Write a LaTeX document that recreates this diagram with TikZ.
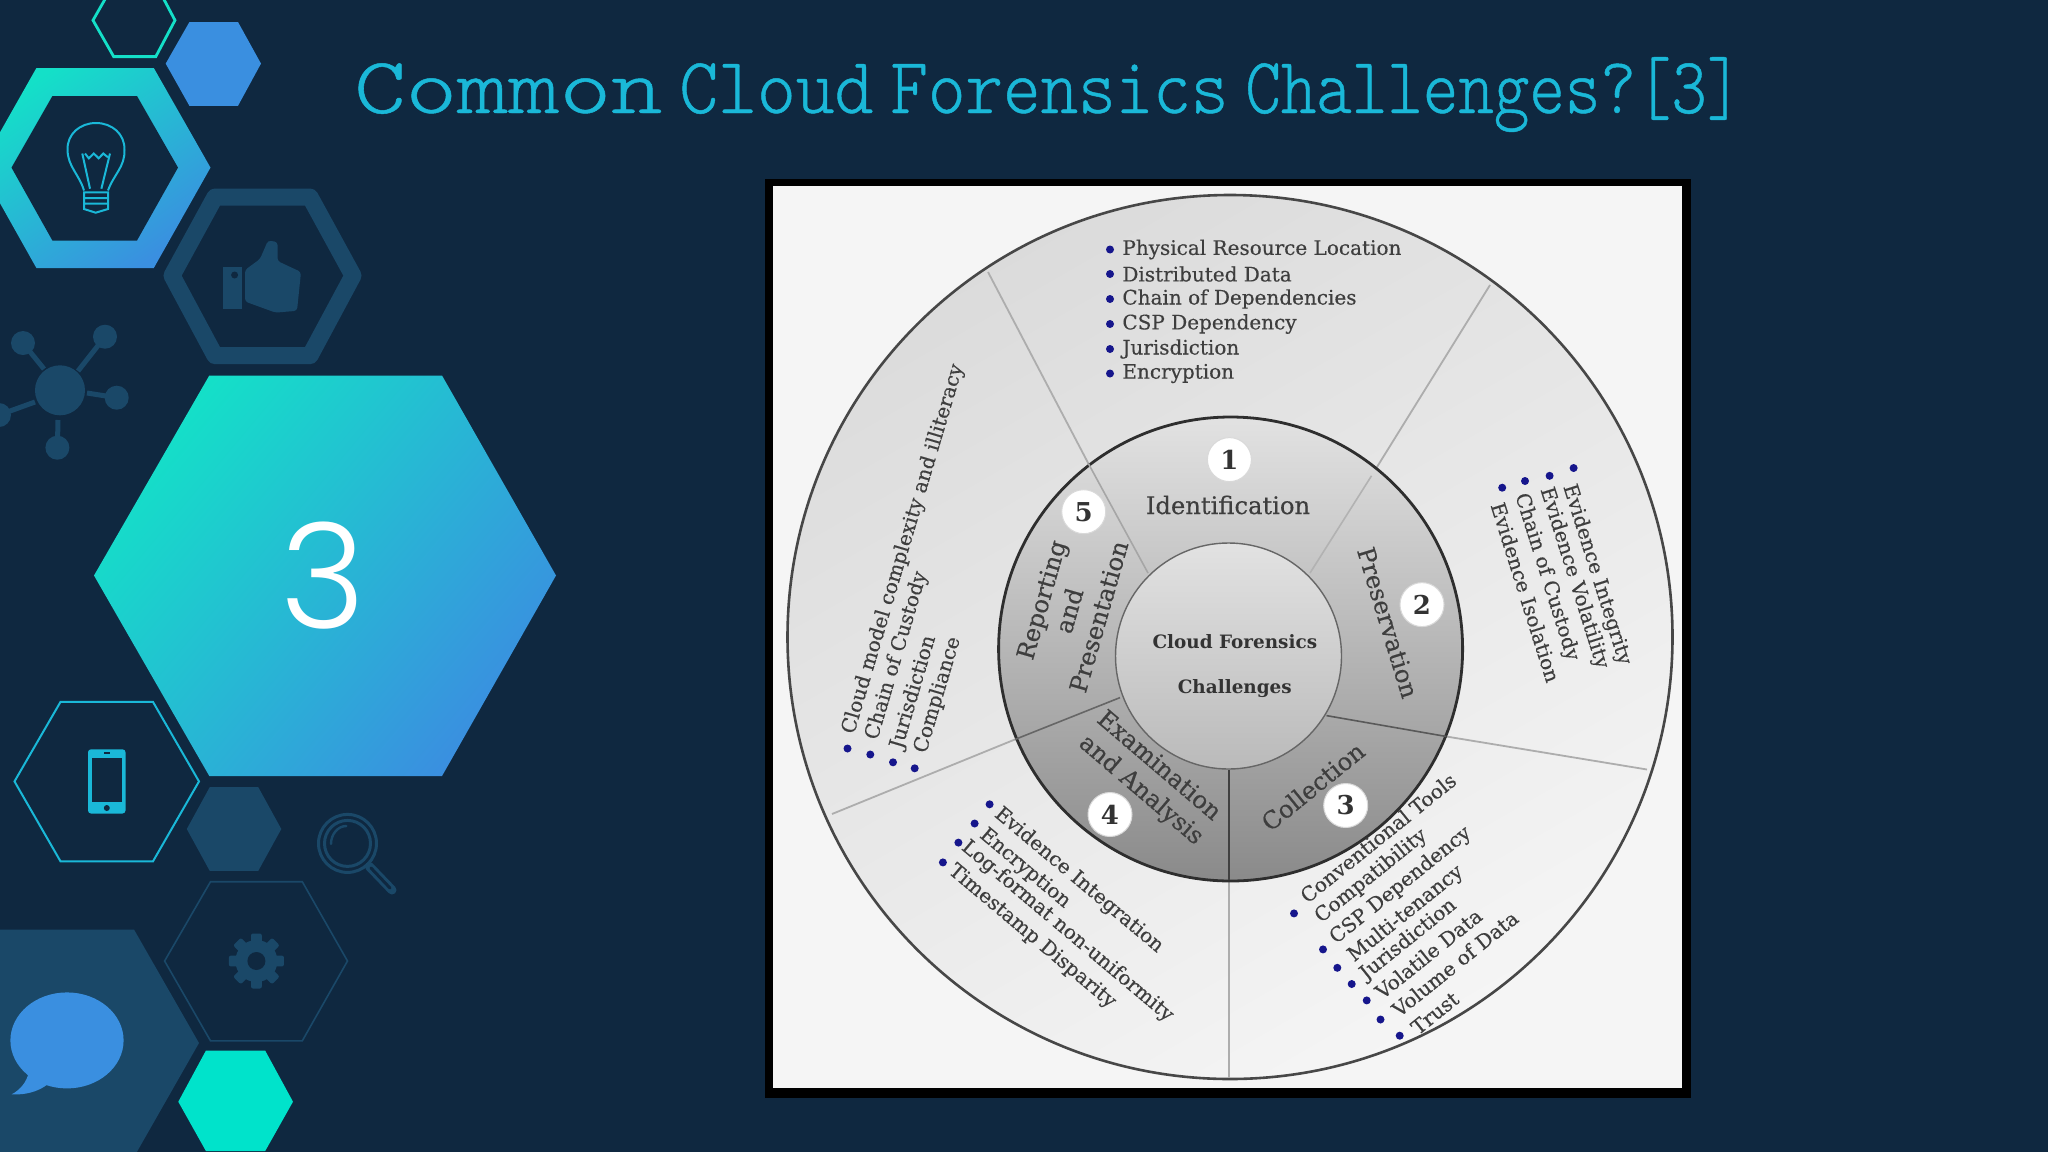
\documentclass[tikz,border=0pt]{standalone}
\usepackage{fontspec}
\usepackage{graphicx}
\newfontfamily\figfont[FakeBold=0.35]{DejaVu Serif}
\newfontfamily\figbfont{DejaVu Serif Bold}
\newfontfamily\titlefont[FakeBold=0.6]{Latin Modern Mono Light}
\newfontfamily\thrfont{Poppins Light}
\definecolor{bgc}{HTML}{0F2840}
\definecolor{teal}{HTML}{14E0C8}
\definecolor{teal2}{HTML}{00E3CB}
\definecolor{bluec}{HTML}{3A8FE0}
\definecolor{navyh}{HTML}{1A4868}
\definecolor{cyanc}{HTML}{1AB8D8}
\definecolor{txtc}{HTML}{3E3E3E}
\definecolor{bulc}{HTML}{16168C}
\definecolor{ringa}{HTML}{E2E2E2}
\definecolor{ringb}{HTML}{CACACA}
\definecolor{ringc}{HTML}{8A8A8A}
\definecolor{inna}{HTML}{E2E2E2}
\definecolor{innb}{HTML}{D4D4D4}
\definecolor{innc}{HTML}{BABABA}
\tikzset{
 figtxt/.style={font=\figfont\fontsize{10}{12}\selectfont,text=txtc,inner sep=0pt},
 figbig/.style={font=\figfont\fontsize{12.1}{14}\selectfont,text=txtc,inner sep=0pt},
 figbold/.style={font=\figbfont\fontsize{9.2}{11}\selectfont,text=black!80,inner sep=0pt},
 numc/.style={circle,fill=white,draw=white!85!black,line width=.5pt,minimum size=22pt,inner sep=0pt,font=\figbfont\fontsize{13}{14}\selectfont,text=black!80},
 bul/.style={fill=bulc},
 gradhex/.style={top color=teal,bottom color=bluec,shading angle=35},
 gradbig/.style={top color=teal,bottom color=bluec,shading angle=50},
}
\begin{document}
\begin{tikzpicture}[x=0.5pt,y=-0.5pt,line join=miter]
\useasboundingbox (0,0) rectangle (2048,1151.7);
\fill[bgc] (-2,-2) rectangle (2050,1154);
\clip (-2,-2) rectangle (2050,1154);
% title
\node[anchor=base west,inner sep=0pt,text=cyanc,font=\titlefont\fontsize{40}{44}\selectfont] (title) at (354,113)
 {\spaceskip=8.5pt\relax\resizebox{154pt}{\height}{Common} \resizebox{97pt}{\height}{Cloud} \resizebox{169pt}{\height}{Forensics} \resizebox{248.5pt}{\height}{Challenges?[3]}};
% top hexagons
\draw[teal,line width=1.4pt] (93,20.3)--(113.7,56.6)--(155.8,56.6)--(175,20.3)--(155.8,-16)--(113.7,-16)--cycle;
\fill[bluec] (165.7,63.6)--(189.4,22)--(238,22)--(261,63.6)--(238,105.8)--(189.4,105.8)--cycle;
% ring
\shade[gradhex] (36.4,68)--(153.8,68)--(210.5,167.6)--(153.8,268)--(36.4,268)--(-20,167.6)--cycle;
\fill[bgc] (52.4,96)--(137,96)--(178,167.6)--(137,240.5)--(52.4,240.5)--(11.5,167.6)--cycle;
% bulb
\begin{scope}[cyanc,line width=1pt]
\draw (84,190.5) .. controls (79,174) and (68,167) .. (67.5,150) .. controls (67,134) and (80,123) .. (96,123) .. controls (112,123) and (125,134) .. (124.5,150) .. controls (125,167) and (114,174) .. (108,190.5);
\draw (82.3,153.5)--(90,188.7) (110,153.5)--(101.4,188.7);
\draw (85,153.5)--(88.8,158.3)--(93.8,153.5)--(98.7,158.3)--(103.3,153.5)--(108,157.3);
\draw (84,192.4)--(108,192.4)--(108,209)--(95.7,212.7)--(84,209)--cycle (84,198)--(108,198) (84,203.5)--(108,203.5);
\end{scope}
% thumb hexagon
\draw[navyh,line width=8.5pt,line join=round] (172,275.6)--(215,197)--(310,197)--(353,275.6)--(310,355.7)--(215,355.7)--cycle;
\fill[navyh] (223,267) rectangle (242,309);
\fill[bgc] (234.6,275) circle (3.5);
\fill[navyh,rounded corners=1.5pt] (245,270)--(260,259)--(268,240.5)--(277.5,242)--(277.5,261)--(301,272)--(297,310.8)--(275.5,312.6)--(245,301.5)--cycle;
% network
\begin{scope}[navyh]
\fill (60,390.3) circle (25);
\fill (23,343) circle (12) (105,336.7) circle (12) (116.7,397.7) circle (12) (57.4,447.7) circle (12) (-1,415) circle (12);
\draw[line width=2.5pt] (44,369)--(23,343) (78,371)--(105,336.7) (87,393)--(116.7,397.7) (58,420)--(57.4,447.7) (35,402)--(-1,415);
\end{scope}
% big hexagon
\shade[gradbig] (209.3,375.5)--(442,375.5)--(556,575.5)--(442,776)--(209.3,776)--(94,575.5)--cycle;
\node[text=white,inner sep=0pt,font=\thrfont\fontsize{73}{80}\selectfont] (three) at (323,576) {3};
% phone hexagon
\draw[cyanc,line width=1pt] (14.5,781.4)--(60.5,701.9)--(153,701.9)--(199,781.4)--(153,861.3)--(60.5,861.3)--cycle;
\fill[cyanc,rounded corners=1.5pt] (88,749.3) rectangle (125.5,813.5);
\fill[bgc] (92,758) rectangle (121.7,801.5);
\fill[bgc] (106.8,808) circle (3);
\fill[bgc] (103.5,752.3) rectangle (110,754.3);
% dark small hexagon
\fill[navyh] (186.8,829)--(209.7,787.2)--(258.3,787.2)--(281.3,829)--(258.3,870.8)--(209.7,870.8)--cycle;
% magnifier
\begin{scope}[navyh]
\draw[line width=1.5pt] (347.5,843.4) circle (29);
\draw[line width=1.5pt] (347.5,843.4) circle (23);
\draw[line width=1.2pt,line cap=round] (346.3,826) .. controls (338,826) and (331,834) .. (331,844);
\draw[line width=4.5pt,line cap=round] (369.3,866.4)--(392,890);
\draw[bgc,line width=1.5pt,line cap=round] (371,868)--(390,888);
\end{scope}
% gear hexagon
\draw[navyh,line width=.8pt] (164.6,961)--(210.5,881.7)--(302.3,881.7)--(347.5,961)--(302.3,1040.8)--(210.5,1040.8)--cycle;
\foreach \a in {0,45,...,315}{
 \fill[navyh,rounded corners=1pt,rotate around={\a:(256.4,961)}] (251,933.5) rectangle (261.8,950);
}
\fill[navyh] (256.4,961) circle (21);
\fill[bgc] (256.4,961) circle (9);
% bottom-left hexagon and speech bubble
\fill[navyh] (-5,929.5)--(134,929.5)--(199,1043)--(134,1157)--(-5,1157)--cycle;
\fill[bluec] (67,1040.4) circle [x radius=56.6,y radius=48];
\fill[bluec] (28.7,1072) .. controls (27,1082) and (20,1090) .. (11.5,1094.4) .. controls (25,1095) and (38,1092) .. (48,1084) -- cycle;
% bottom teal hexagon
\fill[teal2] (178.3,1101.7)--(205.9,1050.6)--(265.2,1050.6)--(293,1101.7)--(265.2,1151)--(205.9,1151)--cycle;
% image frame
\fill[black] (765,179) rectangle (1691,1098);
\fill[white!96!black] (773,186) rectangle (1682,1088);
% outer ring
\shade[top color=white!86!black,bottom color=white!96!black,shading angle=30] (1230,637) circle [x radius=442.5,y radius=442];
\draw[black!72,line width=1.3pt] (1230,637) circle [x radius=442.5,y radius=442];
% outer dividers
\draw[black!32,line width=.9pt] (988,272)--(1088.5,463.8);
\draw[black!32,line width=.9pt] (1490,285)--(1371.5,475.8);
\draw[black!32,line width=.9pt] (1647,769.5)--(1446.4,736.5);
\draw[black!32,line width=.9pt] (1229,1078)--(1229,880);
\draw[black!32,line width=.9pt] (832,814)--(1014.8,739.5);
% middle ring
\shade[top color=ringa,middle color=ringb,bottom color=ringc] (1230.6,649) circle (232);
\draw[black!82,line width=1.4pt] (1230.6,649) circle (232);
\draw[black!35,line width=.8pt] (1088.5,463.8)--(1148,573);
\draw[black!30,line width=.8pt] (1371.5,475.8)--(1310,573);
\draw[black!65,line width=.8pt] (1446.4,736.5)--(1326.5,715.6);
\draw[black!75,line width=.8pt] (1229,880)--(1229,769.5);
\draw[black!60,line width=.8pt] (1014.8,739.5)--(1120,697.6);
% inner circle
\shade[top color=inna,middle color=innb,bottom color=innc] (1228.5,656) circle (113);
\draw[black!60,line width=.7pt] (1228.5,656) circle (113);
% centre labels
\node[figbold] (cf1) at (1234.8,641.8) {Cloud Forensics};
\node[figbold] (cf2) at (1234.8,688.6) {Challenges};
\node[figbig] (lid) at (1228,505) {Identification};
\node[figbig,rotate=-73] (lpr) at (1388,622.6) {Preservation};
\node[figbig,rotate=39] (lco) at (1312.8,786.3) {Collection};
\node[figbig,rotate=-40.5] (lex1) at (1160,764.7) {Examination};
\node[figbig,rotate=-40.5] (lex2) at (1140.7,790.5) {and Analysis};
\node[figbig,rotate=74] (lre1) at (1043.6,600.5) {Reporting};
\node[figbig,rotate=74] (lre2) at (1068.8,610.6) {and};
\node[figbig,rotate=74] (lre3) at (1098.7,616.6) {Presentation};
% numbers
\node[numc] (n1) at (1229.4,459.6) {1};
\node[numc] (n2) at (1422,604.6) {2};
\node[numc] (n3) at (1345.7,805.5) {3};
\node[numc] (n4) at (1110,814.5) {4};
\node[numc] (n5) at (1083.7,511.7) {5};
% top list
\foreach \yy in {249.5,274,299,324,349,373.5}{\fill[bul] (1110,\yy) circle (4);}
\node[figtxt,anchor=west] (t1) at (1122,249.5) {Physical Resource Location};
\node[figtxt,anchor=west] (t2) at (1122,274) {Distributed Data};
\node[figtxt,anchor=west] (t3) at (1122,299) {Chain of Dependencies};
\node[figtxt,anchor=west] (t4) at (1122,324) {CSP Dependency};
\node[figtxt,anchor=west] (t5) at (1122,349) {Jurisdiction};
\node[figtxt,anchor=west] (t6) at (1122,373.5) {Encryption};
% right list
\foreach \p in {(1573.6,468),(1549.6,475.8),(1525,481),(1502.2,487.7)}{\fill[bul] \p circle (4);}
\node[figtxt,anchor=west,rotate=-72.5] (r1) at (1568.2,484.7) {Evidence Integrity};
\node[figtxt,anchor=west,rotate=-72.5] (r2) at (1545.4,487.7) {Evidence Volatility};
\node[figtxt,anchor=west,rotate=-72.5] (r3) at (1520.2,493.7) {Chain of Custody};
\node[figtxt,anchor=west,rotate=-72.5] (r4) at (1497.4,502.7) {Evidence Isolation};
% left list
\foreach \p in {(847.5,748.5),(870.3,754.5),(893,762.3),(914.7,768.3)}{\fill[bul] \p circle (4);}
\node[figtxt,anchor=west,rotate=73.5] (l1) at (848.7,733.6) {Cloud model complexity and illiteracy};
\node[figtxt,anchor=west,rotate=73.5] (l2) at (872,739.5) {Chain of Custody};
\node[figtxt,anchor=west,rotate=73.5] (l3) at (896.7,748.5) {Jurisdiction};
\node[figtxt,anchor=west,rotate=73.5] (l4) at (920.7,752.7) {Compliance};
% bottom-left list
\foreach \p in {(989.6,804.3),(974.6,823.5),(958.4,842.6),(942.9,862.4)}{\fill[bul] \p circle (4);}
\node[figtxt,anchor=west,rotate=-40] (b1) at (996.8,811.5) {Evidence Integration};
\node[figtxt,anchor=west,rotate=-40] (b2) at (981.8,832.5) {Encryption};
\node[figtxt,anchor=west,rotate=-40] (b3) at (963.8,844.5) {Log-format non-uniformity};
\node[figtxt,anchor=west,rotate=-40] (b4) at (950.6,868.4) {Timestamp Disparity};
% bottom-right list
\foreach \p in {(1294,913.4),(1323,949.4),(1337.3,967.8),(1351.7,984),(1366.7,1000.4),(1380.5,1019.5),(1399.7,1035.7)}{\fill[bul] \p circle (4);}
\node[figtxt,anchor=west,rotate=38.8] (c1) at (1302.6,898.4) {Conventional Tools};
\node[figtxt,anchor=west,rotate=38.8] (c2) at (1317.6,919.4) {Compatibility};
\node[figtxt,anchor=west,rotate=38.8] (c3) at (1332.5,940.4) {CSP Dependency};
\node[figtxt,anchor=west,rotate=38.8] (c4) at (1350.5,958.4) {Multi-tenancy};
\node[figtxt,anchor=west,rotate=38.8] (c5) at (1362.5,976.4) {Jurisdiction};
\node[figtxt,anchor=west,rotate=38.8] (c6) at (1377.5,994.4) {Volatile Data};
\node[figtxt,anchor=west,rotate=38.8] (c7) at (1394.3,1012.3) {Volume of Data};
\node[figtxt,anchor=west,rotate=38.8] (c8) at (1413.5,1030.3) {Trust};
\end{tikzpicture}
\end{document}
